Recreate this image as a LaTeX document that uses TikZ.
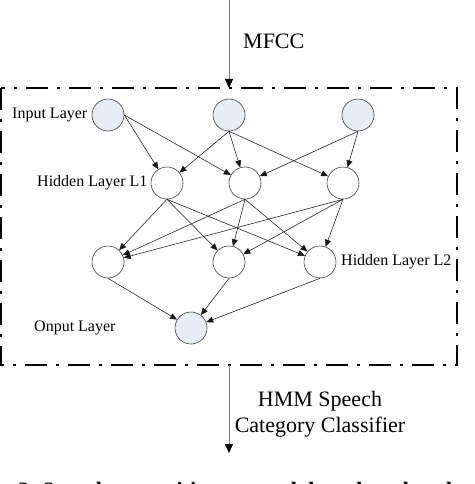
\documentclass[tikz,border=0pt]{standalone}
\usepackage{fontspec}
\setmainfont{Liberation Serif}
\usetikzlibrary{arrows.meta,positioning}
\definecolor{nodeblue}{RGB}{232,236,247}
\definecolor{feedgray}{RGB}{120,120,120}

\begin{document}
\begin{tikzpicture}[x=1pt, y=-1pt, >={Triangle[length=7pt,width=6pt]},
  neuron/.style={circle, draw=black!75, line width=0.6pt, minimum size=32pt, inner sep=0pt},
  inout/.style={neuron, fill=nodeblue},
  hidden/.style={neuron, fill=white},
  link/.style={->, line width=0.55pt, black!90},
  feed/.style={-{Triangle[length=9pt,width=8pt,color=black]}, line width=0.8pt, feedgray},
  lbl/.style={font=\fontsize{16}{18}\selectfont, inner sep=0pt, anchor=west},
  big/.style={font=\fontsize{22}{26}\selectfont, inner sep=0pt, anchor=base}]
  \useasboundingbox (0,0) rectangle (474,484);
  % Box
  \draw[line width=1.8pt, dash pattern=on 22pt off 9pt on 3pt off 9pt] (1,88) rectangle (457,365);
  % Input and output of the network
  \coordinate (src) at (229,0);
  \coordinate (boxtop) at (229,88);
  \coordinate (boxbot) at (229,365);
  \coordinate (dst) at (229,453);
  \draw[feed] (src) -- (boxtop);
  \draw[feed] (boxbot) -- (dst);
  \node[big, anchor=base west] (mfcc) at (243,49) {MFCC};
  \node[big] (hmm) at (320,406) {HMM Speech};
  \node[big] (clf) at (320,432) {Category Classifier};
  % Layers
  \node[inout] (in1) at (108,115) {};
  \node[inout] (in2) at (229,115) {};
  \node[inout] (in3) at (358,115) {};
  \node[hidden] (h1) at (167,183) {};
  \node[hidden] (h2) at (245,183) {};
  \node[hidden] (h3) at (343,183) {};
  \node[hidden] (g1) at (108,262) {};
  \node[hidden] (g2) at (229,262) {};
  \node[hidden] (g3) at (320,262) {};
  \node[inout] (out) at (191,328) {};
  % Labels
  \node[lbl] (inlbl) at (12,115) {Input Layer};
  \node[lbl] (h1lbl) at (37,183) {Hidden Layer L1};
  \node[lbl] (h2lbl) at (341,262) {Hidden Layer L2};
  \node[lbl] (outlbl) at (34,328) {Onput Layer};
  % Connections
  \foreach \a/\b in {in1.east/h1, in1.east/h2, in2.south/h1, in2.south/h2, in2.south/h3,
                     in3.south/h2, in3.south/h3}
    \draw[link] (\a) -- (\b);
  \foreach \a in {h1,h2,h3}
    \foreach \b in {g1,g2,g3}
      \draw[link] (\a.south) -- (\b);
  \foreach \a in {g1,g2,g3}
    \draw[link] (\a.south) -- (out);
  % Caption (cut by the page edge)
  \node[font=\bfseries\fontsize{22}{26}\selectfont, inner sep=0pt, anchor=base west] (caption)
    at (18,497) {2. Speech recognition network based on deep learning};
\end{tikzpicture}
\end{document}
